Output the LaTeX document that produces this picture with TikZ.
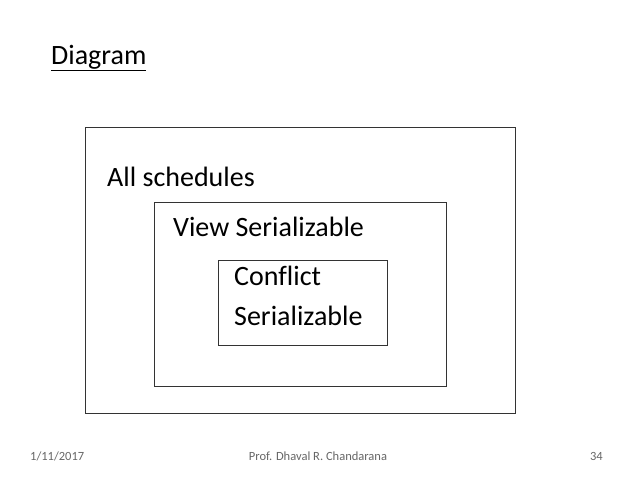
\documentclass[tikz,border=0pt]{standalone}
\usepackage{fontspec}
\setmainfont[Ligatures=NoCommon]{Carlito}
\begin{document}
\begin{tikzpicture}[x=1pt,y=-1pt,
  box/.style={draw=black!80,line width=0.8pt},
  big/.style={font=\fontsize{28}{33}\selectfont,anchor=west,inner sep=0pt},
  foot/.style={font=\fontsize{12.5}{15}\selectfont,text=black!60,inner sep=0pt}]
\useasboundingbox (0,0) rectangle (638,478);
\node[big] (title) at (51,58) {\underline{Diagram}};
\draw[box] (85,127) rectangle (515,413);
\draw[box] (154,202) rectangle (446,386);
\draw[box] (218,260) rectangle (387,345);
\node[big] (all) at (107,177) {All schedules};
\node[big] (view) at (173,227) {View Serializable};
\node[big] (c1) at (234,276) {Conflict};
\node[big] (c2) at (234,316) {Serializable};
\node[foot,anchor=west] (date) at (30,456) {1/11/2017};
\node[foot] (auth) at (318,456) {Prof. Dhaval R. Chandarana};
\node[foot,anchor=east] (pg) at (603,456) {34};
\end{tikzpicture}
\end{document}
